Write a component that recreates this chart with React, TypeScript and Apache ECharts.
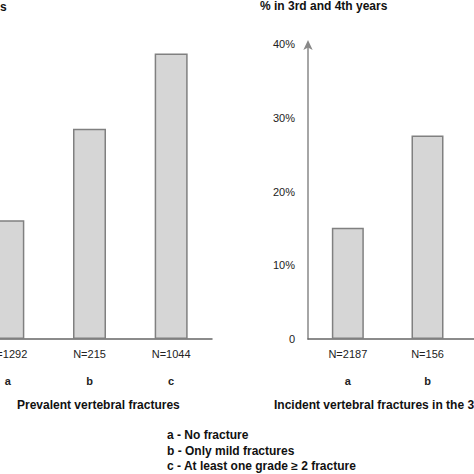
import React, { useEffect, useRef } from "react";
import * as echarts from "echarts";

const categories = ["a", "b", "c"];
const prevalentN = ["N=1292", "N=215", "N=1044"];
const prevalentValues = [16.1, 28.5, 38.7];
const incidentN = ["N=2187", "N=156", ""];
const incidentValues: (number | null)[] = [15.1, 27.6, null];
const yTicks = [0, 10, 20, 30, 40];
const legendLines = [
  "a - No fracture",
  "b - Only mild fractures",
  "c - At least one grade \u2265 2 fracture",
];

const FONT = "Liberation Sans";
// the chart canvas is wider than the visible window; this is its shift
const OX = 50;
const CW = 660;

export default function App() {
  const ref = useRef<HTMLDivElement>(null);
  useEffect(() => {
    if (!ref.current) return;
    const chart = echarts.init(ref.current, null, { renderer: "svg" });
    const barStyle = { color: "#d6d6d6", borderColor: "#808080", borderWidth: 1.5 };
    const labelFor = (names: string[]) => ({
      interval: 0,
      margin: 7,
      color: "#222",
      fontFamily: FONT,
      formatter: (v: string, i: number) => `{n|${names[i]}}\n{l|${v}}`,
      rich: {
        n: { fontSize: 11, lineHeight: 16, fontFamily: FONT, color: "#222" },
        l: { fontSize: 11, lineHeight: 38, fontWeight: "bold", fontFamily: FONT, color: "#222" },
      },
    });
    const xBase = (gi: number, names: string[]) => ({
      type: "category",
      gridIndex: gi,
      data: categories,
      axisLine: { show: true, lineStyle: { color: "#666", width: 1.5 } },
      axisTick: { show: false },
      axisLabel: labelFor(names),
    });
    const bold = `bold 12px '${FONT}'`;
    chart.setOption({
      animation: false,
      grid: [
        { left: OX - 33, width: 245, top: 44, height: 295 },
        { left: OX + 308, width: 239, top: 44, height: 295 },
      ],
      xAxis: [xBase(0, prevalentN), xBase(1, incidentN)],
      yAxis: [
        { type: "value", gridIndex: 0, min: 0, max: 40, interval: 10, show: false },
        {
          type: "value",
          gridIndex: 1,
          min: yTicks[0],
          max: yTicks[yTicks.length - 1],
          interval: 10,
          axisLine: {
            show: true,
            symbol: ["none", "arrow"],
            symbolSize: [7, 10],
            symbolOffset: [0, 4],
            lineStyle: { color: "#888", width: 1.5 },
          },
          axisTick: { show: false },
          splitLine: { show: false },
          axisLabel: {
            margin: 13,
            fontSize: 11,
            color: "#222",
            fontFamily: FONT,
            padding: [0, 0, 4, 0],
            formatter: (v: number) => (v === 0 ? "0" : `${v}%`),
          },
        },
      ],
      series: [
        { type: "bar", xAxisIndex: 0, yAxisIndex: 0, data: prevalentValues, barWidth: 33, itemStyle: barStyle },
        { type: "bar", xAxisIndex: 1, yAxisIndex: 1, data: incidentValues, barWidth: 32, itemStyle: barStyle },
      ],
      graphic: [
        { type: "text", left: OX, top: 1, style: { text: "s", font: bold, fill: "#111" } },
        { type: "text", left: OX + 260, top: 0, style: { text: "% in 3rd and 4th years", font: bold, fill: "#111" } },
        { type: "text", left: OX + 17, top: 399, style: { text: "Prevalent vertebral fractures", font: bold, fill: "#111" } },
        { type: "text", left: OX + 274, top: 399, style: { text: "Incident vertebral fractures in the 3rd and 4th years", font: bold, fill: "#111" } },
        ...legendLines.map((t, i) => ({
          type: "text",
          left: OX + 167,
          top: 429 + i * 15.5,
          style: { text: t, font: bold, fill: "#111" },
        })),
      ],
    });
    return () => chart.dispose();
  }, []);
  return (
    <div style={{ position: "fixed", left: 0, top: 0, width: 474, height: 474, overflow: "hidden", background: "#fff" }}>
      <div ref={ref} style={{ position: "absolute", left: -OX, top: 0, width: CW, height: 474 }} />
    </div>
  );
}
